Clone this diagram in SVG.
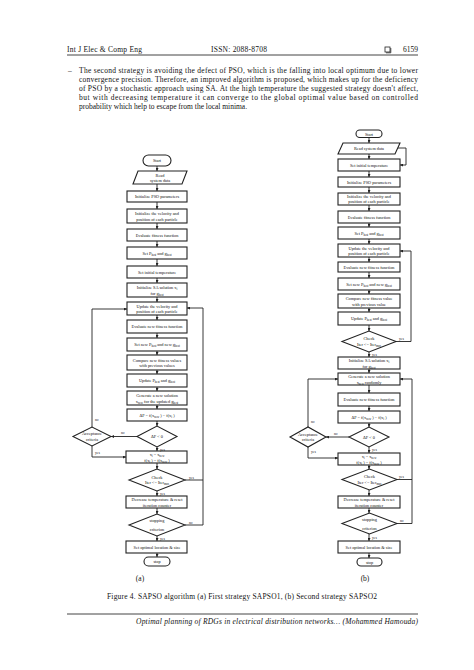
<svg xmlns="http://www.w3.org/2000/svg" width="474" height="670" viewBox="0 0 474 670">
<defs>
<marker id="ah" viewBox="0 0 6 6" refX="6" refY="3" markerWidth="3" markerHeight="3" markerUnits="userSpaceOnUse" orient="auto"><path d="M0,0 L6,3 L0,6 z" fill="#222"/></marker>
<style>
.bx{fill:#fff;stroke:#222;stroke-width:1.1}
.t{font-family:"Liberation Serif",serif;font-size:4.3px;text-anchor:middle;fill:#111}
.l{font-family:"Liberation Serif",serif;font-size:3.6px;fill:#111}
.c{fill:none;stroke:#222;stroke-width:0.9}
.a{fill:none;stroke:#222;stroke-width:0.9;marker-end:url(#ah)}
.p{font-family:"Liberation Serif",serif;font-size:7.5px;fill:#111}
.s{font-size:3px}
</style>
</defs>
<rect width="474" height="670" fill="#fff"/>
<g id="page">
<text class="p" x="67" y="52" textLength="75">Int J Elec &amp; Comp Eng</text>
<text class="p" x="211" y="52" textLength="56">ISSN: 2088-8708</text>
<rect x="385" y="47" width="5" height="5" fill="none" stroke="#222" stroke-width="0.8"/>
<path d="M386,52.8 H390.8 V48" fill="none" stroke="#222" stroke-width="0.8"/>
<text class="p" x="418" y="52" text-anchor="end">6159</text>
<line x1="67" y1="55" x2="418" y2="55" stroke="#444" stroke-width="1"/>
<text class="p" x="68" y="72.5">–</text>
<text class="p" x="79" y="72.5" textLength="339" lengthAdjust="spacing">The second strategy is avoiding the defect of PSO, which is the falling into local optimum due to lower</text>
<text class="p" x="79" y="81.5" textLength="339" lengthAdjust="spacing">convergence precision. Therefore, an improved algorithm is proposed, which makes up for the deficiency</text>
<text class="p" x="79" y="90.5" textLength="339" lengthAdjust="spacing">of PSO by a stochastic approach using SA.  At the high temperature  the suggested strategy doesn't affect,</text>
<text class="p" x="79" y="99.5" textLength="339" lengthAdjust="spacing">but with decreasing temperature it can converge to the global optimal value based on controlled</text>
<text class="p" x="79" y="108.5">probability which help to escape from the local minima.</text>
<text class="p" x="140" y="581" text-anchor="middle">(a)</text>
<text class="p" x="365" y="581" text-anchor="middle">(b)</text>
<text class="p" x="242" y="599" text-anchor="middle" textLength="270">Figure 4. SAPSO algorithm (a) First strategy SAPSO1, (b) Second strategy SAPSO2</text>
<line x1="67" y1="614" x2="418" y2="614" stroke="#444" stroke-width="1"/>
<text class="p" x="418" y="624" text-anchor="end" font-style="italic" textLength="282">Optimal planning of RDGs in electrical distribution networks… (Mohammed Hamouda)</text>
</g>

<!-- Flowchart (a) -->
<g id="a-start"><rect class="bx" x="143" y="155" width="28" height="11" rx="5.5"/><text class="t" x="157" y="162">Start</text></g>
<g id="a-read"><polygon class="bx" points="138,171 187,171 182,184 133,184"/><text class="t" x="160" y="176.5">Read</text><text class="t" x="160" y="182">system data</text></g>
<g id="a-initpso"><rect class="bx" x="127" y="191" width="60" height="11"/><text class="t" x="157" y="198">Initialize PSO parameters</text></g>
<g id="a-initvel"><rect class="bx" x="127" y="209" width="60" height="14"/><text class="t" x="157" y="215">Initialize the velocity and</text><text class="t" x="157" y="220.5">position of each particle</text></g>
<g id="a-eval"><rect class="bx" x="127" y="229" width="60" height="12"/><text class="t" x="157" y="236.5">Evaluate fitness function</text></g>
<g id="a-pbest"><rect class="bx" x="127" y="247" width="60" height="12"/><text class="t" x="157" y="254.5">Set P<tspan class="s" dy="1">best</tspan><tspan dy="-1"> and g</tspan><tspan class="s" dy="1">best</tspan></text></g>
<g id="a-temp"><rect class="bx" x="127" y="266" width="60" height="12"/><text class="t" x="157" y="273.5">Set initial temperature</text></g>
<g id="a-initsa"><rect class="bx" x="127" y="283" width="60" height="14"/><text class="t" x="157" y="289">Initialize SA solution x<tspan class="s" dy="1">i</tspan></text><text class="t" x="157" y="294.5">for g<tspan class="s" dy="1">best</tspan></text></g>
<g id="a-update"><rect class="bx" x="127" y="302" width="60" height="13"/><text class="t" x="157" y="307.5">Update the velocity and</text><text class="t" x="157" y="313">position of each particle</text></g>
<g id="a-evalnew"><rect class="bx" x="127" y="320" width="60" height="13"/><text class="t" x="157" y="328">Evaluate new fitness function</text></g>
<g id="a-setnew"><rect class="bx" x="127" y="338" width="60" height="13"/><text class="t" x="157" y="346">Set new P<tspan class="s" dy="1">best</tspan><tspan dy="-1"> and new g</tspan><tspan class="s" dy="1">best</tspan></text></g>
<g id="a-compare"><rect class="bx" x="127" y="355" width="60" height="15"/><text class="t" x="157" y="361.5">Compare new fitness values</text><text class="t" x="157" y="367">with previous values</text></g>
<g id="a-updpb"><rect class="bx" x="127" y="374" width="60" height="13"/><text class="t" x="157" y="382">Update P<tspan class="s" dy="1">best</tspan><tspan dy="-1"> and g</tspan><tspan class="s" dy="1">best</tspan></text></g>
<g id="a-gen"><rect class="bx" x="127" y="391" width="60" height="14"/><text class="t" x="157" y="397">Generate a new solution</text><text class="t" x="157" y="402.5">x<tspan class="s" dy="1">new</tspan><tspan dy="-1"> for the updated g</tspan><tspan class="s" dy="1">best</tspan></text></g>
<g id="a-df"><rect class="bx" x="127" y="409" width="60" height="12"/><text class="t" x="157" y="416.5">ΔF = f(x<tspan class="s" dy="1">new</tspan><tspan dy="-1"> ) − f(x</tspan><tspan class="s" dy="1">i</tspan><tspan dy="-1"> )</tspan></text></g>
<g id="a-dflt"><polygon class="bx" points="137,436.5 157,426 177,436.5 157,447"/><text class="t" x="157" y="438">ΔF &lt; 0</text></g>
<g id="a-acc"><polygon class="bx" points="73,436.5 92,427 111,436.5 92,446"/><text class="t" x="92" y="435">Acceptance</text><text class="t" x="92" y="440.5">criteria</text></g>
<g id="a-xi"><rect class="bx" x="126" y="451" width="61" height="12"/><text class="t" x="157" y="456">x<tspan class="s" dy="1">i</tspan><tspan dy="-1"> = x</tspan><tspan class="s" dy="1">new</tspan></text><text class="t" x="157" y="461.5">f(x<tspan class="s" dy="1">i</tspan><tspan dy="-1"> ) = f(x</tspan><tspan class="s" dy="1">new</tspan><tspan dy="-1"> )</tspan></text></g>
<g id="a-check"><polygon class="bx" points="129,480 157,469 185,480 157,491"/><text class="t" x="157" y="478.5">Check</text><text class="t" x="157" y="484">Iter &lt;= Iter<tspan class="s" dy="1">max</tspan></text></g>
<g id="a-dec"><rect class="bx" x="126" y="496" width="61" height="12"/><text class="t" x="157" y="501">Decrease temperature &amp; reset</text><text class="t" x="157" y="506.5">iteration counter</text></g>
<g id="a-stopcrit"><polygon class="bx" points="129,525 157,514 185,525 157,536"/><text class="t" x="157" y="522">stopping</text><text class="t" x="157" y="530.5">criterion</text></g>
<g id="a-opt"><rect class="bx" x="126" y="541" width="61" height="12"/><text class="t" x="157" y="548.5">Set optimal location &amp; size</text></g>
<g id="a-stop"><rect class="bx" x="144" y="557" width="26" height="9" rx="4.5"/><text class="t" x="157" y="563">stop</text></g>

<!-- Flowchart (b) -->
<g id="b-start"><rect class="bx" x="356" y="130" width="26" height="7.5" rx="3.75"/><text class="t" x="369" y="135.5">Start</text></g>
<g id="b-read"><polygon class="bx" points="343,143 400,143 395,154 338,154"/><text class="t" x="369" y="150">Read system data</text></g>
<g id="b-temp"><rect class="bx" x="338" y="159" width="62" height="12"/><text class="t" x="369" y="166.5">Set initial temperature</text></g>
<g id="b-initpso"><rect class="bx" x="338" y="177" width="62" height="10"/><text class="t" x="369" y="183.5">Initialize PSO parameters</text></g>
<g id="b-initvel"><rect class="bx" x="338" y="193" width="62" height="12"/><text class="t" x="369" y="198">Initialize the velocity and</text><text class="t" x="369" y="203.3">position of each particle</text></g>
<g id="b-eval"><rect class="bx" x="338" y="211" width="62" height="12"/><text class="t" x="369" y="218.5">Evaluate fitness function</text></g>
<g id="b-pbest"><rect class="bx" x="338" y="227" width="62" height="12"/><text class="t" x="369" y="234.5">Set P<tspan class="s" dy="1">best</tspan><tspan dy="-1"> and g</tspan><tspan class="s" dy="1">best</tspan></text></g>
<g id="b-update"><rect class="bx" x="338" y="244" width="62" height="13"/><text class="t" x="369" y="249.5">Update the velocity and</text><text class="t" x="369" y="255">position of each particle</text></g>
<g id="b-evalnew"><rect class="bx" x="338" y="262" width="62" height="10"/><text class="t" x="369" y="268.5">Evaluate new fitness function</text></g>
<g id="b-setnew"><rect class="bx" x="338" y="278" width="62" height="12"/><text class="t" x="369" y="285.5">Set new P<tspan class="s" dy="1">best</tspan><tspan dy="-1"> and new g</tspan><tspan class="s" dy="1">best</tspan></text></g>
<g id="b-compare"><rect class="bx" x="338" y="294" width="62" height="14"/><text class="t" x="369" y="300">Compare new fitness value</text><text class="t" x="369" y="305.5">with previous value</text></g>
<g id="b-updpb"><rect class="bx" x="338" y="312" width="62" height="13"/><text class="t" x="369" y="320">Update P<tspan class="s" dy="1">best</tspan><tspan dy="-1"> and g</tspan><tspan class="s" dy="1">best</tspan></text></g>
<g id="b-check1"><polygon class="bx" points="342,341.5 369,331 396,341.5 369,352"/><text class="t" x="369" y="340">Check</text><text class="t" x="369" y="345.5">Iter &lt;= Iter<tspan class="s" dy="1">max</tspan></text></g>
<g id="b-initsa"><rect class="bx" x="338" y="357" width="62" height="12"/><text class="t" x="369" y="362">Initialize SA solution x<tspan class="s" dy="1">i</tspan></text><text class="t" x="369" y="367.5">for g<tspan class="s" dy="1">best</tspan></text></g>
<g id="b-gen"><rect class="bx" x="338" y="373" width="62" height="12"/><text class="t" x="369" y="378">Generate a new solution</text><text class="t" x="369" y="383.5">x<tspan class="s" dy="1">new</tspan><tspan dy="-1"> randomly</tspan></text></g>
<g id="b-evalnew2"><rect class="bx" x="338" y="393" width="62" height="13"/><text class="t" x="369" y="401">Evaluate new fitness function</text></g>
<g id="b-df"><rect class="bx" x="338" y="411" width="62" height="12"/><text class="t" x="369" y="418.5">ΔF = f(x<tspan class="s" dy="1">new</tspan><tspan dy="-1"> ) − f(x</tspan><tspan class="s" dy="1">i</tspan><tspan dy="-1"> )</tspan></text></g>
<g id="b-dflt"><polygon class="bx" points="349,437 369,427 389,437 369,447"/><text class="t" x="369" y="438.5">ΔF &lt; 0</text></g>
<g id="b-acc"><polygon class="bx" points="290,437 308,427 326,437 308,447"/><text class="t" x="308" y="435.5">Acceptance</text><text class="t" x="308" y="441">criteria</text></g>
<g id="b-xi"><rect class="bx" x="338" y="453" width="62" height="12"/><text class="t" x="369" y="458">x<tspan class="s" dy="1">i</tspan><tspan dy="-1"> = x</tspan><tspan class="s" dy="1">new</tspan></text><text class="t" x="369" y="463.5">f(x<tspan class="s" dy="1">i</tspan><tspan dy="-1"> ) = f(x</tspan><tspan class="s" dy="1">new</tspan><tspan dy="-1"> )</tspan></text></g>
<g id="b-check2"><polygon class="bx" points="342,479.5 369.5,469 397,479.5 369.5,490"/><text class="t" x="369.5" y="478">Check</text><text class="t" x="369.5" y="483.5">Iter &lt;= Iter<tspan class="s" dy="1">max</tspan></text></g>
<g id="b-dec"><rect class="bx" x="338" y="496" width="62" height="12"/><text class="t" x="369" y="501">Decrease temperature &amp; reset</text><text class="t" x="369" y="506.5">iteration counter</text></g>
<g id="b-stopcrit"><polygon class="bx" points="342,523.5 369.5,513 397,523.5 369.5,534"/><text class="t" x="369.5" y="520.5">stopping</text><text class="t" x="369.5" y="529.5">criterion</text></g>
<g id="b-opt"><rect class="bx" x="338" y="541" width="62" height="12"/><text class="t" x="369" y="548.5">Set optimal location &amp; size</text></g>
<g id="b-stop"><rect class="bx" x="357" y="558" width="25" height="8" rx="4"/><text class="t" x="369.5" y="563.5">stop</text></g>

<g id="connectors">
<path class="a" d="M157,166V171"/><path class="a" d="M157,184V191"/><path class="a" d="M157,202V209"/>
<path class="a" d="M157,223V229"/><path class="a" d="M157,241V247"/><path class="a" d="M157,259V266"/>
<path class="a" d="M157,278V283"/><path class="a" d="M157,297V302"/><path class="a" d="M157,315V320"/>
<path class="a" d="M157,333V338"/><path class="a" d="M157,351V355"/><path class="a" d="M157,370V374"/>
<path class="a" d="M157,387V391"/><path class="a" d="M157,405V409"/><path class="a" d="M157,421V426"/>
<path class="a" d="M157,447V451"/><path class="a" d="M157,463V469"/><path class="a" d="M157,491V496"/>
<path class="a" d="M157,508V514"/><path class="a" d="M157,536V541"/><path class="a" d="M157,553V557"/>
<path class="a" d="M137,436.5H111"/>
<path class="a" d="M92,427V309H127"/>
<path class="a" d="M92,446V457H126"/>
<path class="c" d="M185,480H203"/>
<path class="c" d="M185,525H203"/>
<path class="a" d="M203,525V308H187"/>
<path class="a" d="M369,137.5V143"/><path class="a" d="M369,154V159"/><path class="a" d="M369,171V177"/>
<path class="a" d="M369,187V193"/><path class="a" d="M369,205V211"/><path class="a" d="M369,223V227"/>
<path class="a" d="M369,239V244"/><path class="a" d="M369,257V262"/><path class="a" d="M369,272V278"/>
<path class="a" d="M369,290V294"/><path class="a" d="M369,308V312"/><path class="a" d="M369,325V331"/>
<path class="a" d="M369,352V357"/><path class="a" d="M369,369V373"/><path class="a" d="M369,385V393"/>
<path class="a" d="M369,406V411"/><path class="a" d="M369,423V427"/><path class="a" d="M369,447V453"/>
<path class="a" d="M369,465V469"/><path class="a" d="M369,490V496"/><path class="a" d="M369,508V513"/>
<path class="a" d="M369,534V541"/><path class="a" d="M369,553V558"/>
<path class="a" d="M398,148H406V165H400"/>
<path class="a" d="M396,341.5H411V251H400"/>
<path class="a" d="M349,437H326"/>
<path class="a" d="M308,427V379H338"/>
<path class="a" d="M308,447V458H338"/>
<path class="c" d="M397,479.5H412"/>
<path class="c" d="M397,523.5H412"/>
<path class="a" d="M412,523.5V379H400"/>
<text class="l" x="95" y="421">no</text>
<text class="l" x="121" y="434">no</text>
<text class="l" x="160" y="450.5">yes</text>
<text class="l" x="95" y="454">yes</text>
<text class="l" x="189" y="478.5">yes</text>
<text class="l" x="160" y="494.5">yes</text>
<text class="l" x="189" y="523.5">no</text>
<text class="l" x="160" y="539.5">yes</text>
<text class="l" x="399" y="340">yes</text>
<text class="l" x="372" y="355.5">yes</text>
<text class="l" x="334" y="434.5">no</text>
<text class="l" x="372" y="450.5">yes</text>
<text class="l" x="311" y="422.5">no</text>
<text class="l" x="311" y="453">yes</text>
<text class="l" x="399" y="478">yes</text>
<text class="l" x="400" y="522">no</text>
<text class="l" x="372" y="539">yes</text>
</g>
</svg>
